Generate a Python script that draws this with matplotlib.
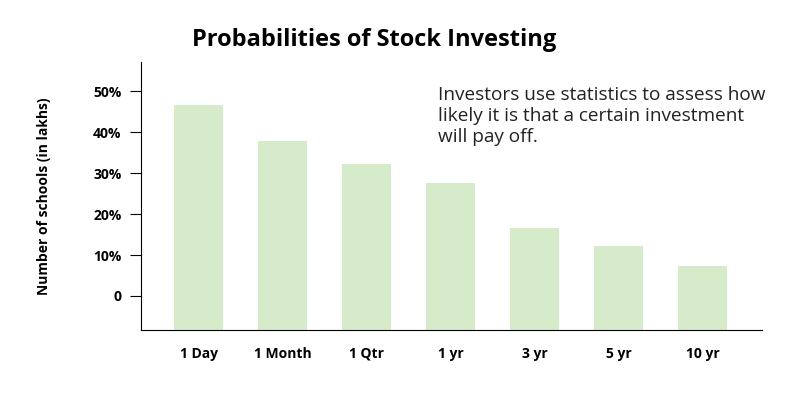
import matplotlib
matplotlib.use("Agg")
import matplotlib.pyplot as plt

categories = ["1 Day", "1 Month", "1 Qtr", "1 yr", "3 yr", "5 yr", "10 yr"]
values = [46.5, 37.7, 32.3, 27.6, 16.6, 12.2, 7.3]
ytick_vals = [0, 10, 20, 30, 40, 50]
ytick_labels = ["0", "10%", "20%", "30%", "40%", "50%"]

plt.rcParams['font.family'] = ['Open Sans', 'DejaVu Sans']
fig = plt.figure(figsize=(8, 4), dpi=100)
ax = fig.add_axes([0.176, 0.175, 0.7765, 0.67])
ymin = -8.3
x = list(range(len(categories)))
ax.bar(x, [v - ymin for v in values], bottom=ymin, width=0.58, color="#d5ebca")
ax.set_xlim(-0.69, 6.71)
ax.set_ylim(ymin, 57.1)
ax.set_yticks(ytick_vals)
ax.set_yticklabels(ytick_labels, fontsize=10, fontweight="bold")
ax.set_xticks(x)
ax.set_xticklabels(categories, fontsize=10, fontweight="bold")
ax.tick_params(axis="x", length=0, pad=12)
ax.tick_params(axis="y", length=8, width=0.8, pad=6)
for s in ["top", "right"]:
    ax.spines[s].set_visible(False)
ax.set_ylabel("Number of schools (in lakhs)", fontsize=10, fontweight="bold", labelpad=30)
fig.text(0.24, 0.885, "Probabilities of Stock Investing", fontsize=17, fontweight="bold", ha="left")
fig.text(0.547, 0.785, "Investors use statistics to assess how\nlikely it is that a certain investment\nwill pay off.",
         fontsize=13.7, ha="left", va="top", linespacing=1.2, color="#222222")
fig.savefig("out.png", dpi=100, facecolor="white")
